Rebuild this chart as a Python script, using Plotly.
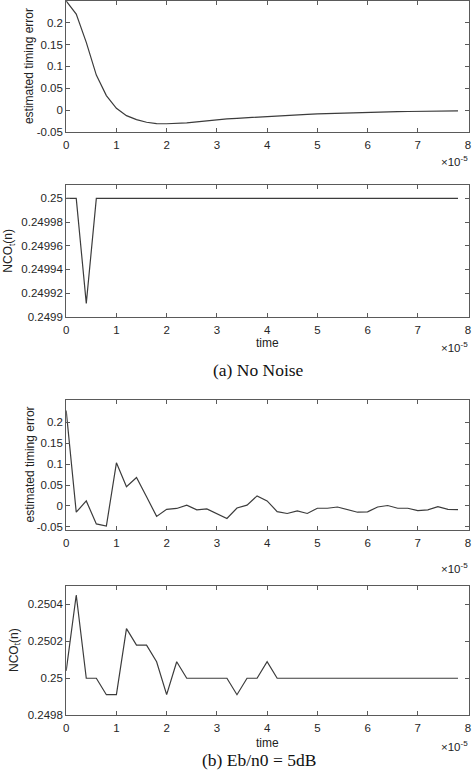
import plotly.graph_objects as go

# time samples (seconds)
time_s = [i * 2e-6 for i in range(40)]

# (a) No Noise
err_a = [0.25, 0.22, 0.155, 0.08, 0.033, 0.004, -0.013, -0.022, -0.028, -0.031,
         -0.0315, -0.031, -0.0295, -0.027, -0.0245, -0.022, -0.0205, -0.019, -0.0175, -0.016,
         -0.0145, -0.0135, -0.0122, -0.011, -0.0098, -0.0088, -0.008, -0.0072, -0.0065, -0.0058,
         -0.0052, -0.0047, -0.0042, -0.0038, -0.0034, -0.0031, -0.0028, -0.0026, -0.0024, -0.0022]
nco_a = [0.25, 0.25, 0.2499114] + [0.25] * 37

# (b) Eb/n0 = 5dB
err_b = [0.228, -0.015, 0.012, -0.043, -0.048, 0.103, 0.046, 0.068, 0.022, -0.025,
         -0.008, -0.006, 0.002, -0.0095, -0.007, -0.019, -0.030, -0.005, 0.002, 0.024,
         0.012, -0.0135, -0.018, -0.012, -0.018, -0.0055, -0.0055, -0.0025, -0.008, -0.015,
         -0.014, -0.0025, 0.001, -0.0055, -0.0055, -0.011, -0.0095, -0.0015, -0.008, -0.009]
nco_b = [0.25004, 0.25045, 0.25, 0.25, 0.249911, 0.249911, 0.250268, 0.250179, 0.250179, 0.250089,
         0.249911, 0.250089, 0.25, 0.25, 0.25, 0.25, 0.25, 0.249911, 0.25, 0.25,
         0.250089] + [0.25] * 19

x_tickvals = [k / 1e5 for k in range(9)]
x_ticktext = [str(k) for k in range(9)]

W, H = 474, 780
x0, x1 = 64, 471
panels = [
    (err_a, (0, 132), [-0.05, 0.25], [-0.05, 0, 0.05, 0.1, 0.15, 0.2], ["-0.05", "0", "0.05", "0.1", "0.15", "0.2"]),
    (nco_a, (186, 318.7), [0.2499, 0.250011], [0.2499, 0.24992, 0.24994, 0.24996, 0.24998, 0.25],
     ["0.2499", "0.24992", "0.24994", "0.24996", "0.24998", "0.25"]),
    (err_b, (402.7, 534), [-0.058, 0.253], [-0.05, 0, 0.05, 0.1, 0.15, 0.2], ["-0.05", "0", "0.05", "0.1", "0.15", "0.2"]),
    (nco_b, (590, 720.7), [0.2498, 0.2505], [0.2498, 0.25, 0.2502, 0.2504], ["0.2498", "0.25", "0.2502", "0.2504"]),
]

fig = go.Figure()
axis_color = "#5a5a5a"
tick_font = dict(family="Liberation Sans, Arial, sans-serif", size=11.5, color="#262626")

xmax = 8.01 / 1e5
x1_ext = x0 + (x1 - x0) * 8.01 / 8

for i, (vals, (top, bot), yr, tv, tt) in enumerate(panels, start=1):
    xa = "x" if i == 1 else f"x{i}"
    ya = "y" if i == 1 else f"y{i}"
    fig.add_trace(go.Scatter(x=time_s, y=vals, mode="lines", xaxis=xa, yaxis=ya,
                             line=dict(color="#3c3c3c", width=1.2), showlegend=False,
                             hoverinfo="skip"))
    xkey = "xaxis" if i == 1 else f"xaxis{i}"
    ykey = "yaxis" if i == 1 else f"yaxis{i}"
    fig.layout[xkey] = dict(
        domain=[x0 / W, x1_ext / W], range=[0, xmax], anchor=ya,
        tickvals=x_tickvals, ticktext=x_ticktext, ticks="inside", ticklen=4,
        tickcolor=axis_color, showline=True, linecolor=axis_color, linewidth=1,
        mirror="ticks", showgrid=False, zeroline=False, tickfont=tick_font,
        ticklabeloverflow="allow", ticklabelstandoff=2,
    )
    fig.layout[ykey] = dict(
        domain=[1 - bot / H, 1 - top / H], range=yr, anchor=xa,
        tickvals=tv, ticktext=tt, ticks="inside", ticklen=4,
        tickcolor=axis_color, showline=True, linecolor=axis_color, linewidth=1,
        mirror="ticks", showgrid=False, zeroline=False, tickfont=tick_font,
        ticklabeloverflow="allow",
    )

ann = []
title_font = dict(family="Liberation Sans, Arial, sans-serif", size=12, color="#222222")
ylabels = [("estimated timing error", 27, 66), ("NCO<sub>t</sub>(n)", 6, 252),
           ("estimated timing error", 27, 468), ("NCO<sub>t</sub>(n)", 12, 655)]
for text, xp, yp in ylabels:
    ann.append(dict(text=text, x=xp / W, y=1 - yp / H, xref="paper", yref="paper",
                    textangle=-90, showarrow=False, font=title_font,
                    xanchor="center", yanchor="middle"))
for yp in [345, 749]:
    ann.append(dict(text="time", x=267.5 / W, y=1 - yp / H, xref="paper", yref="paper",
                    showarrow=False, font=title_font, xanchor="center", yanchor="middle"))
for yp in [161, 349, 572, 752]:
    ann.append(dict(text="×10<sup>-5</sup>", x=473 / W, y=1 - yp / H, xref="paper", yref="paper",
                    showarrow=False, font=dict(family="Liberation Sans, Arial, sans-serif", size=11.5, color="#222222"),
                    xanchor="right", yanchor="middle"))
cap_font = dict(family="Liberation Serif, Times New Roman, serif", size=17.5, color="#111111")
ann.append(dict(text="(a) No Noise", x=259 / W, y=1 - 372 / H, xref="paper", yref="paper",
                showarrow=False, font=cap_font, xanchor="center", yanchor="middle"))
ann.append(dict(text="(b) Eb/n0 = 5dB", x=259 / W, y=1 - 766 / H, xref="paper", yref="paper",
                showarrow=False, font=cap_font, xanchor="center", yanchor="middle"))

fig.update_layout(width=W, height=H, margin=dict(l=0, r=0, t=0, b=0),
                  paper_bgcolor="white", plot_bgcolor="white", annotations=ann)

fig.write_html("out.html")
